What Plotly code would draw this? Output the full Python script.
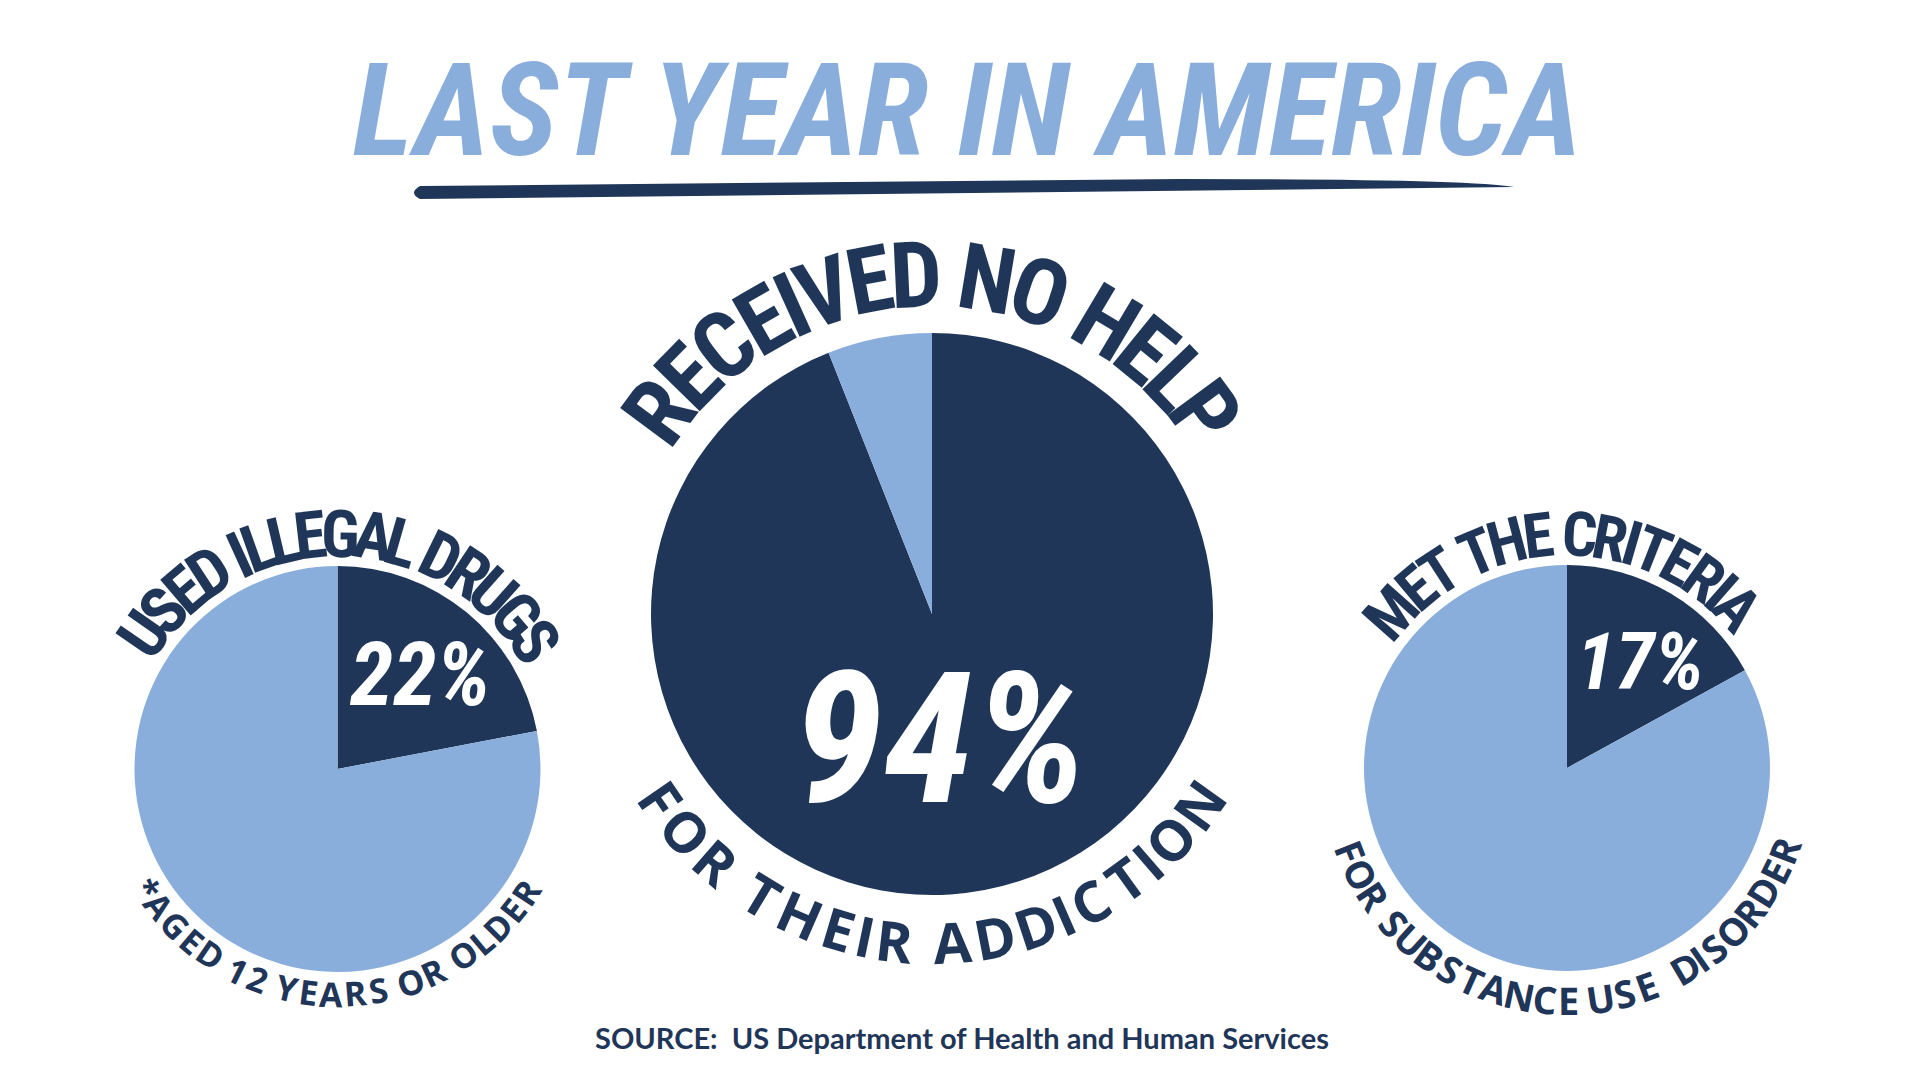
import math
import plotly.graph_objects as go

W, H = 1920, 1080
PAGE_MARGIN = 8  # default body margin of the html page
NAVY = "#1f3659"
LIGHT = "#8aaedc"

# data
pie_values = [22, 94, 17]
pie_titles = ["USED ILLEGAL DRUGS", "RECEIVED NO HELP", "MET THE CRITERIA"]
pie_notes = ["*AGED 12 YEARS OR OLDER", "FOR THEIR ADDICTION", "FOR SUBSTANCE USE  DISORDER"]
title = "LAST YEAR IN AMERICA"
source = "SOURCE:  US Department of Health and Human Services"

# layout (pixels on the page, top-left origin)
centers = [(337.5, 769), (932, 614), (1567, 768)]
radii = [203, 281, 203]
label_offsets = [(82, -95), (8, 125), (73, -106)]
label_sizes = [88, 184, 80]
top_r = [235, 339, 234]
top_span = [(-55.2, 57.3), (-53.4, 53.7), (-48.5, 46.9)]
top_size = [66, 92, 62]
bot_r = [225, 328, 232]
bot_span = [(-57.8, 56.9), (-55.6, 54.5), (-68.7, 69.3)]
bot_size = [34, 56, 38]

HEAD_FONT = "Roboto Condensed, Open Sans Condensed, sans-serif"
BODY_FONT = "Open Sans, Noto Sans, sans-serif"

WIDTHS = {
    "A": .58, "B": .57, "C": .57, "D": .58, "E": .50, "F": .49, "G": .60, "H": .62,
    "I": .25, "J": .48, "K": .56, "L": .47, "M": .75, "N": .62, "O": .62, "P": .55,
    "Q": .62, "R": .56, "S": .55, "T": .54, "U": .57, "V": .56, "W": .78, "X": .55,
    "Y": .54, "Z": .52, " ": .22, "*": .42, "%": .66,
}


def char_w(c):
    return WIDTHS.get(c, .51)


def px(x):
    return (x - PAGE_MARGIN) / W


def py(y):
    return 1 - (y - PAGE_MARGIN) / H


def arc_text(text, cx, cy, r, a0, a1, size, family, bottom=False):
    # one annotation per letter, rotated along a circle round the pie centre
    anns = []
    cum, mids = 0, []
    for c in text:
        w = char_w(c)
        mids.append(cum + w / 2)
        cum += w
    m0, m1 = mids[0], mids[-1]
    for ch, m in zip(text, mids):
        if ch == " ":
            continue
        t = a0 + (a1 - a0) * (m - m0) / (m1 - m0)
        rad = math.radians(t)
        if bottom:
            x, y, ang = cx + r * math.sin(rad), cy + r * math.cos(rad), -t
        else:
            x, y, ang = cx + r * math.sin(rad), cy - r * math.cos(rad), t
        anns.append(dict(
            x=px(x), y=py(y), xref="paper", yref="paper", text=ch,
            showarrow=False, textangle=ang, xanchor="center", yanchor="middle",
            font=dict(family=family, size=size, color=NAVY, weight="bold"),
        ))
    return anns


fig = go.Figure()
annotations = []

for i, v in enumerate(pie_values):
    cx, cy = centers[i]
    r = radii[i]
    fig.add_trace(go.Pie(
        values=[v, 100 - v],
        labels=["Yes", "No"],
        sort=False,
        direction="clockwise",
        rotation=0,
        marker=dict(colors=[NAVY, LIGHT], line=dict(width=0)),
        textinfo="none",
        hoverinfo="label+percent",
        showlegend=False,
        domain=dict(x=[px(cx - r), px(cx + r)], y=[py(cy + r), py(cy - r)]),
    ))
    dx, dy = label_offsets[i]
    annotations.append(dict(
        x=px(cx + dx), y=py(cy + dy), xref="paper", yref="paper",
        text=f"{v}%", showarrow=False, xanchor="center", yanchor="middle",
        font=dict(family=HEAD_FONT, size=label_sizes[i], color="white",
                  weight="bold", style="italic"),
    ))
    annotations += arc_text(pie_titles[i], cx, cy, top_r[i], *top_span[i],
                            top_size[i], HEAD_FONT)
    annotations += arc_text(pie_notes[i], cx, cy, bot_r[i], *bot_span[i],
                            bot_size[i], BODY_FONT, bottom=True)

# title and source
annotations.append(dict(
    x=px(967), y=py(111), xref="paper", yref="paper", text=title,
    showarrow=False, xanchor="center", yanchor="middle",
    font=dict(family=HEAD_FONT, size=130, color=LIGHT, weight="bold", style="italic"),
))
annotations.append(dict(
    x=px(962), y=py(1037), xref="paper", yref="paper", text=source,
    showarrow=False, xanchor="center", yanchor="middle",
    font=dict(family="Lato, Open Sans, sans-serif", size=29, color=NAVY, weight="bold"),
))

# brush underline under the title
path = (f"M {px(420)},{py(186)} L {px(1180)},{py(179)} "
        f"Q {px(1470)},{py(179)} {px(1514)},{py(187)} "
        f"L {px(420)},{py(199)} "
        f"Q {px(408)},{py(193)} {px(420)},{py(186)} Z")

fig.update_layout(
    width=W, height=H,
    margin=dict(l=0, r=0, t=0, b=0),
    paper_bgcolor="white",
    plot_bgcolor="white",
    annotations=annotations,
    shapes=[dict(type="path", path=path, xref="paper", yref="paper",
                 fillcolor=NAVY, line=dict(width=0))],
)

fig.write_html("out.html")
